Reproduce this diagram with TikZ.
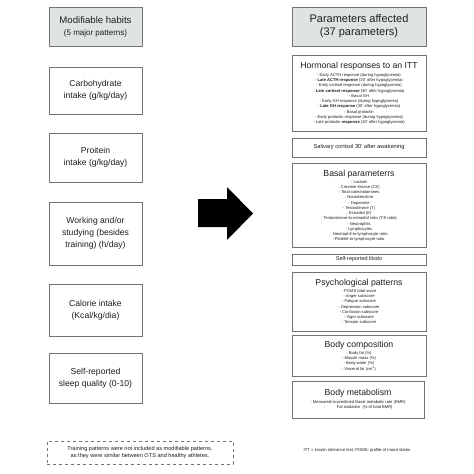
\documentclass[tikz,border=0pt]{standalone}
\usepackage{fontspec}
\setmainfont{Liberation Sans}
\definecolor{bordergray}{RGB}{115,115,115}
\definecolor{hdrfill}{RGB}{224,227,228}
\definecolor{txt}{RGB}{30,30,30}
\begin{document}
\begin{tikzpicture}[x=1pt,y=-1pt,
  box/.style={draw=bordergray, line width=0.9pt, fill=white, inner sep=0pt, text=txt, align=center},
  hdrbox/.style={box, fill=hdrfill},
  lefttext/.style={font=\fontsize{8.6}{11.8}\selectfont},
  headtext/.style={inner sep=0pt, text=txt, font=\fontsize{8.7}{10}\selectfont},
  items/.style={inner sep=0pt, text=txt, align=center, anchor=north, font=\fontsize{4.1}{5.25}\selectfont},
  smalltext/.style={inner sep=0pt, text=txt, font=\fontsize{5.6}{7}\selectfont}
]
\useasboundingbox (0,0) rectangle (474,474);
\fill[white] (0,0) rectangle (474,474);

% left column
\node[hdrbox, minimum width=93pt, minimum height=39pt] (habits) at (95.5,26.5)
  {{\fontsize{9.6}{12}\selectfont Modifiable habits}\\[0pt]{\fontsize{8}{12}\selectfont (5 major patterns)}};
\node[box, lefttext, minimum width=93pt, minimum height=47pt] (carb) at (95.5,90.5)
  {Carbohydrate\\intake (g/kg/day)};
\node[box, lefttext, minimum width=93pt, minimum height=49pt] (prot) at (95.5,157.5)
  {Proitein\\intake (g/kg/day)};
\node[box, lefttext, minimum width=93pt, minimum height=63pt] (work) at (95.5,233.5)
  {Working and/or\\studying (besides\\training) (h/day)};
\node[box, lefttext, minimum width=93pt, minimum height=52pt] (cal) at (95.5,310)
  {Calorie intake\\(Kcal/kg/dia)};
\node[box, lefttext, minimum width=93pt, minimum height=50pt] (sleep) at (95.5,378)
  {Self-reported\\sleep quality (0-10)};

\node[draw=bordergray, dashed, line width=0.6pt, minimum width=186pt, minimum height=23pt,
  inner sep=0pt, align=center, text=txt, font=\fontsize{5.6}{7.2}\selectfont] (note) at (140,452.5)
  {Training patterns were not included as modifiable patterns,\\as they were similar between OTS and healthy athletes.};

% big arrow
\fill[black] (198,199) -- (227,199) -- (227,187) -- (253,213.5) -- (227,240) -- (227,227) -- (198,227) -- cycle;

% right column
\node[hdrbox, minimum width=134pt, minimum height=39pt, font=\fontsize{11}{13}\selectfont] (params) at (359,26.5)
  {Parameters affected\\(37 parameters)};

\node[box, minimum width=134pt, minimum height=76pt] (horm) at (359,93) {};
\node[headtext] (hormh) at (359,66) {Hormonal responses to an ITT};
\node[items] (hormi) at (359,73.2) {%
- Early ACTH response (during hypoglycemia)\\
- \textbf{Late ACTH response} (30' after hypoglycemia)\\
- Early cortisol response (during hypoglycemia)\\
- \textbf{Late cortisol response} (30' after hypoglycemia)\\
- Basal GH\\
- Early GH response (during hypoglycemia)\\
- \textbf{Late GH response} (30' after hypoglycemia)\\
- Basal prolactin\\
- Early prolactin response (during hypoglycemia)\\
- Late prolactin \textbf{response} (30' after hypoglycemia)};

\node[box, minimum width=134pt, minimum height=19pt, font=\fontsize{5.7}{7}\selectfont] (saliv) at (359,147.5)
  {Salivary cortisol 30' after awakening};

\node[box, minimum width=134pt, minimum height=84pt] (basal) at (359,205) {};
\node[headtext] (basalh) at (359,174) {Basal parameterrs};
\node[items] (basali) at (359,180.2) {%
- Lactate\\
- Creatine Kinase (CK)\\
- Total catecholamines\\
- Noradrenaline\\
- Dopamine\\
- Testosterone (T)\\
- Estradiol (E)\\
- Testosterone-to-estradiol ratio (T:E ratio)\\
- Neutrophils\\
- Lymphocytes\\
- Neutrophil-to-lymphocyte ratio\\
-Platelet-to-lymphocyte ratio};

\node[box, minimum width=134pt, minimum height=11pt, font=\fontsize{5.5}{7}\selectfont] (libido) at (359,259.5)
  {Self-reported libido};

\node[box, minimum width=134pt, minimum height=59pt] (psych) at (359,301.5) {};
\node[headtext] (psychh) at (359,283) {Psychological patterns};
\node[items] (psychi) at (359,289.2) {%
- POMS total score\\
- Anger subscore\\
- Fatigue  subscore\\
- Depression subscore\\
- Confusion subscore\\
- Vigor subscore\\
- Tension subscore};

\node[box, minimum width=134pt, minimum height=41pt] (comp) at (359,355.5) {};
\node[headtext] (comph) at (359,345) {Body composition};
\node[items] (compi) at (359,351.2) {%
- Body fat (\%)\\
- Muscle mass (\%)\\
- Body water (\%)\\
- Visceral fat (cm\textsuperscript{2})};

\node[box, minimum width=132pt, minimum height=37pt] (metab) at (358,399.5) {};
\node[headtext] (metabh) at (358,393) {Body metabolism};
\node[items] (metabi) at (358,400.2) {%
- Measured-to-predicted Basal metabolic rate (BMR)\\
-\hspace{12pt}Fat oxidation\ \ (\% of total BMR)};

\node[inner sep=0pt, text=txt, font=\fontsize{4.2}{5}\selectfont] (foot) at (357,450)
  {ITT = insulin tolerance test; POMS: profile of mood states};
\end{tikzpicture}
\end{document}
